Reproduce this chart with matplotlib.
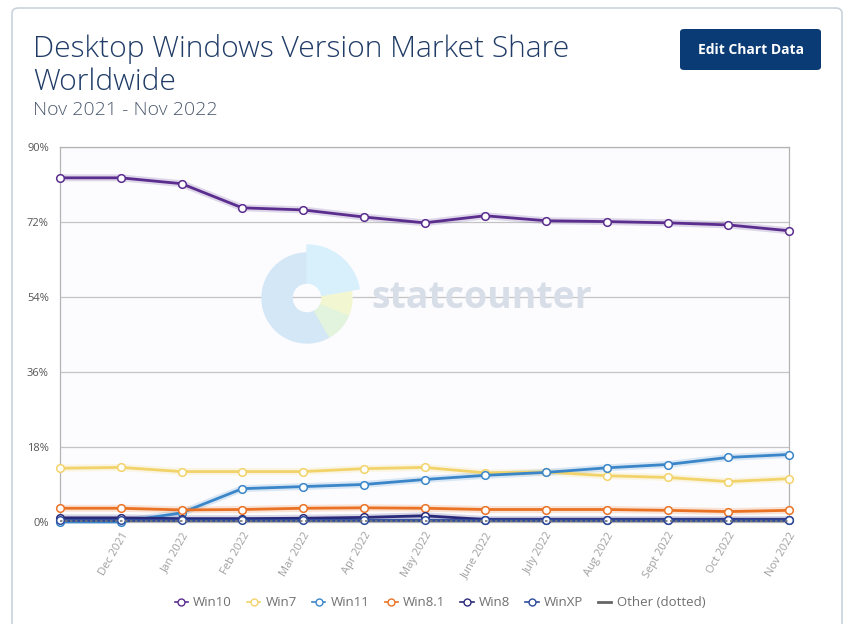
import matplotlib.pyplot as plt
from matplotlib.patches import FancyBboxPatch, Wedge
from matplotlib.lines import Line2D

plt.rcParams['font.family'] = ['Open Sans', 'DejaVu Sans']

months = ["Nov 2021", "Dec 2021", "Jan 2022", "Feb 2022", "Mar 2022", "Apr 2022",
          "May 2022", "June 2022", "July 2022", "Aug 2022", "Sept 2022", "Oct 2022", "Nov 2022"]

win10 = [82.6, 82.6, 81.2, 75.4, 74.9, 73.2, 71.8, 73.5, 72.3, 72.1, 71.8, 71.3, 69.9]
win7 = [12.9, 13.1, 12.1, 12.1, 12.1, 12.8, 13.1, 11.8, 12.0, 11.1, 10.7, 9.7, 10.4]
win11 = [0.0, 0.0, 2.2, 8.0, 8.5, 9.0, 10.2, 11.2, 11.9, 13.0, 13.8, 15.5, 16.2]
win81 = [3.3, 3.3, 2.9, 3.0, 3.3, 3.4, 3.3, 3.0, 3.0, 3.0, 2.8, 2.5, 2.8]
win8 = [1.0, 1.0, 0.8, 0.8, 0.9, 1.1, 1.5, 0.6, 0.6, 0.6, 0.6, 0.6, 0.6]
winxp = [0.5, 0.5, 0.5, 0.5, 0.5, 0.5, 0.5, 0.5, 0.5, 0.5, 0.5, 0.5, 0.5]
other = [0.3, 0.3, 0.3, 0.3, 0.3, 0.3, 0.3, 0.3, 0.3, 0.3, 0.3, 0.3, 0.3]

series = [
    ("Win10", win10, "#5a2d8e"),
    ("Win7", win7, "#f2d36a"),
    ("Win11", win11, "#3b86c8"),
    ("Win8.1", win81, "#ea7224"),
    ("Win8", win8, "#2b2a7a"),
    ("WinXP", winxp, "#2d4b9b"),
]

W, H = 855, 624
fig = plt.figure(figsize=(W / 100, H / 100), dpi=100)
fig.patch.set_facecolor("white")

# card border
card = FancyBboxPatch((12 / W, 1 - 660 / H), 830 / W, 652 / H,
                      boxstyle="round,pad=0,rounding_size=0.008",
                      transform=fig.transFigure, facecolor="white",
                      edgecolor="#c9d3dd", linewidth=1.2, zorder=-10)
fig.patches.append(card)

fig.text(33 / W, 1 - 57 / H, "Desktop Windows Version Market Share",
         fontsize=21.6, color="#1f3b66", fontweight="light")
fig.text(33 / W, 1 - 90 / H, "Worldwide",
         fontsize=21.6, color="#1f3b66", fontweight="light")
fig.text(33 / W, 1 - 115 / H, "Nov 2021 - Nov 2022",
         fontsize=14, color="#4d5b6e", fontweight="light")

btn = FancyBboxPatch((680 / W, 1 - 70 / H), 141 / W, 41 / H,
                     boxstyle="round,pad=0,rounding_size=0.005",
                     transform=fig.transFigure, facecolor="#0b3b75",
                     edgecolor="none")
fig.patches.append(btn)
fig.text(750.5 / W, 1 - 49.5 / H, "Edit Chart Data", ha="center", va="center",
         fontsize=10, color="white", fontweight="bold")

ax = fig.add_axes([60 / W, 1 - 522 / H, 729 / W, 375 / H])
ax.set_facecolor("#fcfcfe")
x = list(range(len(months)))

for name, vals, col in series:
    ax.plot(x, vals, color=col, lw=5, alpha=0.18, solid_capstyle="round", zorder=2)
    ax.plot(x, vals, color=col, lw=2.0, marker="o", markersize=5.5,
            markerfacecolor="white", markeredgecolor=col, markeredgewidth=1.1,
            zorder=3, clip_on=False)
ax.plot(x, other, color="#777777", lw=1.2, ls=(0, (1.5, 1.5)), zorder=3, clip_on=False)

ax.set_xlim(0, len(months) - 1)
ax.set_ylim(0, 90)
ax.set_yticks([0, 18, 36, 54, 72, 90])
ax.set_yticklabels(["0%", "18%", "36%", "54%", "72%", "90%"])
ax.set_xticks(x)
ax.set_xticklabels([""] + months[1:], rotation=60, ha="right", rotation_mode="anchor")
ax.tick_params(axis="both", length=0, labelsize=8)
ax.tick_params(axis="y", colors="#555555", pad=8)
ax.tick_params(axis="x", colors="#a0a0a0", pad=6)
ax.grid(axis="y", color="#c4c4c4", lw=0.9)
ax.set_axisbelow(True)
for s in ["top", "right", "left", "bottom"]:
    ax.spines[s].set_color("#b4b4b4")
    ax.spines[s].set_linewidth(0.9)

# statcounter watermark
lax = fig.add_axes([247 / W, 1 - 358 / H, 120 / W, 120 / H])
lax.set_xlim(-60, 60)
lax.set_ylim(-60, 60)
lax.axis("off")
lax.add_patch(Wedge((0, 0), 45, 90, 300, width=30, color="#d4e7f7"))
lax.add_patch(Wedge((0, 0), 45, 300, 338, width=30, color="#e2f3de"))
lax.add_patch(Wedge((0, 0), 45, 338, 10, width=30, color="#f2f7d2"))
lax.add_patch(Wedge((0, 0), 53, 10, 90, width=38, color="#d7f0fb"))
fig.text(482 / W, 1 - 298 / H, "statcounter", ha="center", va="center",
         fontsize=27, fontweight="bold", color="#d8dee8")

handles = [Line2D([], [], color=c, lw=1.2, marker="o", markersize=5,
                  markerfacecolor="white", markeredgecolor=c)
           for _, _, c in series]
handles.append(Line2D([], [], color="#666666", lw=2))
labels = [n for n, _, _ in series] + ["Other (dotted)"]
fig.legend(handles, labels, loc="center", bbox_to_anchor=(440 / W, 1 - 603 / H),
           ncol=7, frameon=False, fontsize=9.5, handlelength=1.0,
           handletextpad=0.4, columnspacing=1.15, labelcolor="#707070")

fig.savefig("out.png", dpi=100)
